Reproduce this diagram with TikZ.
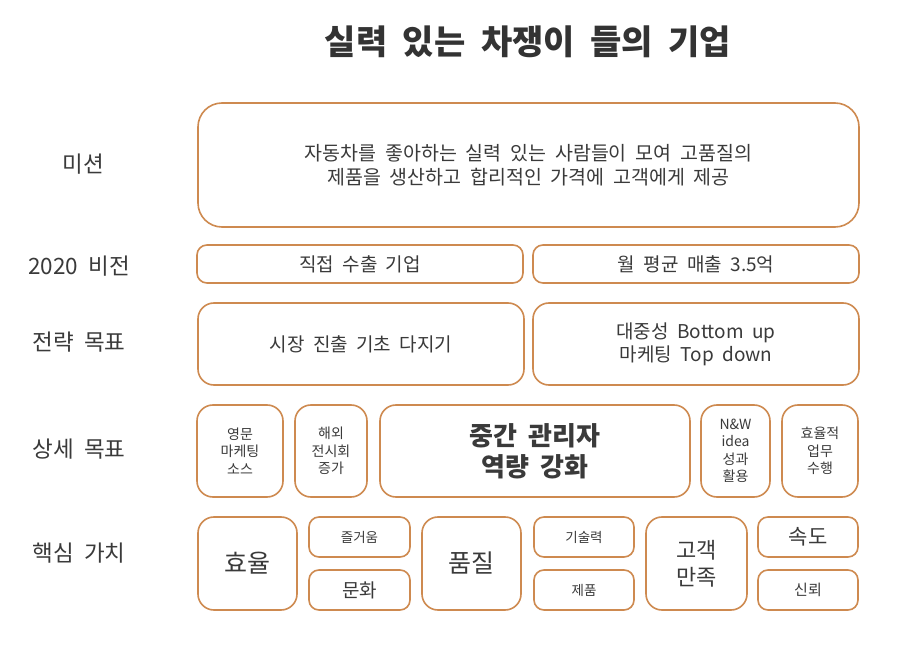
\documentclass[tikz,border=0pt]{standalone}
\usepackage{fontspec}
\setmainfont[WordSpace=2]{Noto Sans CJK KR}
\usetikzlibrary{positioning}

\definecolor{boxline}{RGB}{206,138,80}
\definecolor{ink}{RGB}{58,58,58}

\begin{document}
\begin{tikzpicture}[x=1pt, y=-1pt,
        box/.style={draw=boxline, line width=1.6pt, rounded corners=#1,
            fill=white, text=ink, align=center, inner sep=0pt},
        box/.default=16pt,
        rowlabel/.style={text=ink, font=\fontsize{22.5}{26}\selectfont}]
    \useasboundingbox[fill=white] (0,0) rectangle (922,647);

    % title
    \node[text=black!80, font=\fontsize{34}{40}\selectfont\bfseries]
        (title) at (528,42) {실력 있는 차쟁이 들의 기업};

    % row labels
    \node[rowlabel] (lblmission) at (83,164) {미션};
    \node[rowlabel] (lblvision) at (79,266) {2020 비전};
    \node[rowlabel] (lblstrategy) at (79,342) {전략 목표};
    \node[rowlabel] (lbldetail) at (79,449) {상세 목표};
    \node[rowlabel] (lblcore) at (79,553) {핵심 가치};

    % mission
    \node[box=24pt, minimum width=661pt, minimum height=124pt,
          font=\fontsize{19.5}{24}\selectfont]
        (mission) at (528.5,165)
        {자동차를 좋아하는 실력 있는 사람들이 모여 고품질의\\
         제품을 생산하고 합리적인 가격에 고객에게 제공};

    % vision
    \node[box=10pt, minimum width=326pt, minimum height=38pt,
          font=\fontsize{19}{22}\selectfont]
        (visionA) at (360,264) {직접 수출 기업};
    \node[box=10pt, minimum width=326pt, minimum height=38pt,
          font=\fontsize{19}{22}\selectfont]
        (visionB) at (696,264) {월 평균 매출 3.5억};

    % strategy
    \node[box=16pt, minimum width=326pt, minimum height=82pt,
          font=\fontsize{19}{23}\selectfont]
        (strategyA) at (361,344) {시장 진출 기초 다지기};
    \node[box=16pt, minimum width=326pt, minimum height=82pt,
          font=\fontsize{19}{23}\selectfont]
        (strategyB) at (696,344) {대중성 Bottom up\\마케팅 Top down};

    % detail goals
    \node[box, minimum width=86pt, minimum height=92pt,
          font=\fontsize{14}{17.5}\selectfont]
        (detailA) at (240,451) {영문\\마케팅\\소스};
    \node[box, minimum width=72pt, minimum height=92pt,
          font=\fontsize{14}{17.5}\selectfont]
        (detailB) at (331,451) {해외\\전시회\\증가};
    \node[box, minimum width=310pt, minimum height=92pt,
          font=\fontsize{26}{31}\selectfont\bfseries]
        (detailC) at (535,451) {중간 관리자\\역량 강화};
    \node[box, minimum width=69pt, minimum height=92pt,
          font=\fontsize{14}{17.5}\selectfont]
        (detailD) at (735.5,451) {N\&W\\idea\\성과\\활용};
    \node[box, minimum width=76pt, minimum height=92pt,
          font=\fontsize{14}{17.5}\selectfont]
        (detailE) at (820,451) {효율적\\업무\\수행};

    % core values
    \node[box, minimum width=99pt, minimum height=93pt,
          font=\fontsize{25}{30}\selectfont]
        (coreA) at (247.5,563.5) {효율};
    \node[box=10pt, minimum width=101pt, minimum height=40pt,
          font=\fontsize{13.5}{16}\selectfont]
        (coreB) at (359.5,537) {즐거움};
    \node[box=10pt, minimum width=101pt, minimum height=40pt,
          font=\fontsize{19}{22}\selectfont]
        (coreC) at (359.5,590) {문화};
    \node[box, minimum width=99pt, minimum height=93pt,
          font=\fontsize{25}{30}\selectfont]
        (coreD) at (471.5,563.5) {품질};
    \node[box=10pt, minimum width=100pt, minimum height=40pt,
          font=\fontsize{13.5}{16}\selectfont]
        (coreE) at (584,537) {기술력};
    \node[box=10pt, minimum width=100pt, minimum height=40pt,
          font=\fontsize{13.5}{16}\selectfont]
        (coreF) at (584,590) {제품};
    \node[box, minimum width=101pt, minimum height=93pt,
          font=\fontsize{22}{27}\selectfont]
        (coreG) at (696.5,563.5) {고객\\만족};
    \node[box=10pt, minimum width=100pt, minimum height=40pt,
          font=\fontsize{21}{24}\selectfont]
        (coreH) at (808,537) {속도};
    \node[box=10pt, minimum width=100pt, minimum height=40pt,
          font=\fontsize{15}{18}\selectfont]
        (coreI) at (808,590) {신뢰};
\end{tikzpicture}
\end{document}
